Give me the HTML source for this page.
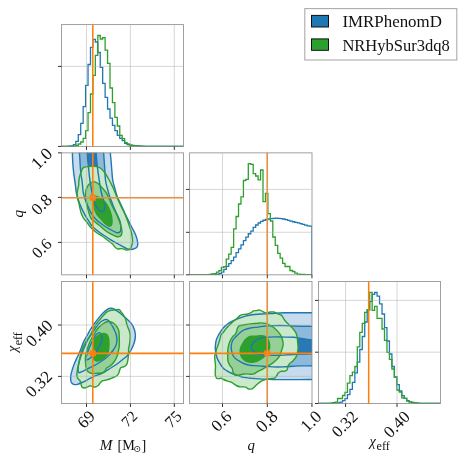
<!DOCTYPE html><html><head><meta charset="utf-8"><style>html,body{margin:0;padding:0;background:#fff;width:465px;height:465px;overflow:hidden}svg{display:block}text{font-family:"Liberation Serif","DejaVu Serif",serif;fill:#111}</style></head><body>
<svg width="465" height="465" viewBox="0 0 465 465">
<rect width="465" height="465" fill="#fff"/>
<defs>
<clipPath id="c00"><rect x="61.5" y="24.55" width="122.00" height="121.90"/></clipPath>
<clipPath id="h00"><rect x="61.5" y="24.55" width="122.00" height="122.20"/></clipPath>
<clipPath id="c10"><rect x="61.5" y="152.85" width="122.00" height="121.95"/></clipPath>
<clipPath id="c11"><rect x="189.55" y="152.85" width="122.45" height="121.95"/></clipPath>
<clipPath id="h11"><rect x="189.55" y="152.85" width="122.45" height="122.25"/></clipPath>
<clipPath id="c20"><rect x="61.5" y="281.5" width="122.00" height="122.00"/></clipPath>
<clipPath id="c21"><rect x="189.55" y="281.5" width="122.45" height="122.00"/></clipPath>
<clipPath id="c22"><rect x="318.5" y="281.5" width="122.00" height="122.00"/></clipPath>
<clipPath id="h22"><rect x="318.5" y="281.5" width="122.00" height="122.30"/></clipPath>
</defs>
<g clip-path="url(#c10)">
<path d="M72.00 140.00C72.08 143.52 72.30 149.85 72.40 153.10C72.50 156.35 72.48 157.18 72.60 159.50C72.72 161.82 72.88 164.48 73.10 167.00C73.32 169.52 73.58 172.08 73.90 174.60C74.22 177.12 74.72 180.12 75.00 182.10C75.28 184.08 75.38 184.77 75.60 186.50C75.82 188.23 75.85 190.25 76.30 192.50C76.75 194.75 77.47 197.48 78.30 200.00C79.13 202.52 80.18 205.08 81.30 207.60C82.42 210.12 83.88 213.07 85.00 215.10C86.12 217.13 86.75 217.90 88.00 219.80C89.25 221.70 90.38 224.25 92.50 226.50C94.62 228.75 97.78 231.17 100.70 233.30C103.62 235.43 106.95 237.43 110.00 239.30C113.05 241.17 116.42 243.05 119.00 244.50C121.58 245.95 123.67 247.17 125.50 248.00C127.33 248.83 128.50 249.38 130.00 249.50C131.50 249.62 133.28 249.20 134.50 248.70C135.72 248.20 136.78 247.62 137.30 246.50C137.82 245.38 137.87 243.92 137.60 242.00C137.33 240.08 136.80 237.72 135.70 235.00C134.60 232.28 132.68 229.07 131.00 225.70C129.32 222.33 127.40 218.58 125.60 214.80C123.80 211.02 121.58 206.02 120.20 203.00C118.82 199.98 118.25 199.37 117.30 196.70C116.35 194.03 115.27 189.78 114.50 187.00C113.73 184.22 113.15 182.83 112.70 180.00C112.25 177.17 112.08 173.33 111.80 170.00C111.52 166.67 111.23 162.78 111.00 160.00C110.77 157.22 110.53 156.63 110.40 153.30C110.27 149.97 110.25 143.55 110.20 140.00C110.15 136.45 110.13 134.67 110.10 132.00C110.07 129.33 113.18 126.67 110.00 124.00C106.82 121.33 97.33 116.00 91.00 116.00C84.67 116.00 75.18 121.33 72.00 124.00C68.82 126.67 71.90 129.33 71.90 132.00C71.90 134.67 71.92 136.48 72.00 140.00Z" fill="rgb(198,219,237)"/>
<path d="M79.50 140.00C79.50 143.52 79.43 149.85 79.50 153.10C79.57 156.35 79.77 157.18 79.90 159.50C80.03 161.82 80.12 164.48 80.30 167.00C80.48 169.52 80.68 172.08 81.00 174.60C81.32 177.12 81.83 179.12 82.20 182.10C82.57 185.08 82.67 189.52 83.20 192.50C83.73 195.48 84.58 197.62 85.40 200.00C86.22 202.38 87.15 204.67 88.10 206.80C89.05 208.93 89.90 210.82 91.10 212.80C92.30 214.78 93.27 216.62 95.30 218.70C97.33 220.78 100.63 223.42 103.30 225.30C105.97 227.18 109.02 228.77 111.30 230.00C113.58 231.23 115.50 232.45 117.00 232.70C118.50 232.95 119.65 232.45 120.30 231.50C120.95 230.55 120.92 228.58 120.90 227.00C120.88 225.42 120.72 223.83 120.20 222.00C119.68 220.17 118.70 218.08 117.80 216.00C116.90 213.92 115.80 211.83 114.80 209.50C113.80 207.17 112.68 204.25 111.80 202.00C110.92 199.75 110.22 198.17 109.50 196.00C108.78 193.83 108.17 191.67 107.50 189.00C106.83 186.33 106.00 184.00 105.50 180.00C105.00 176.00 104.80 169.45 104.50 165.00C104.20 160.55 103.85 157.47 103.70 153.30C103.55 149.13 103.63 143.55 103.60 140.00C103.57 136.45 103.52 134.67 103.50 132.00C103.48 129.33 105.58 126.67 103.50 124.00C101.42 121.33 95.00 116.00 91.00 116.00C87.00 116.00 81.42 121.33 79.50 124.00C77.58 126.67 79.50 129.33 79.50 132.00C79.50 134.67 79.50 136.48 79.50 140.00Z" fill="rgb(141,185,219)"/>
<path d="M86.80 140.00C86.83 143.55 86.75 149.08 87.00 153.30C87.25 157.52 87.85 161.07 88.30 165.30C88.75 169.53 89.17 174.58 89.70 178.70C90.23 182.82 90.87 186.62 91.50 190.00C92.13 193.38 92.78 196.42 93.50 199.00C94.22 201.58 94.97 203.75 95.80 205.50C96.63 207.25 97.50 208.48 98.50 209.50C99.50 210.52 100.85 211.47 101.80 211.60C102.75 211.73 103.72 211.35 104.20 210.30C104.68 209.25 104.82 207.02 104.70 205.30C104.58 203.58 103.95 201.72 103.50 200.00C103.05 198.28 102.48 196.83 102.00 195.00C101.52 193.17 101.10 191.72 100.60 189.00C100.10 186.28 99.57 182.65 99.00 178.70C98.43 174.75 97.67 169.53 97.20 165.30C96.73 161.07 96.40 157.52 96.20 153.30C96.00 149.08 96.03 143.55 96.00 140.00C95.97 136.45 96.00 134.67 96.00 132.00C96.00 129.33 96.83 126.67 96.00 124.00C95.17 121.33 92.53 116.00 91.00 116.00C89.47 116.00 87.50 121.33 86.80 124.00C86.10 126.67 86.80 129.33 86.80 132.00C86.80 134.67 86.77 136.45 86.80 140.00Z" fill="rgb(40,121,182)"/>
<path d="M93.00 166.30C94.55 166.30 95.67 166.23 97.00 166.60C98.33 166.97 99.67 167.43 101.00 168.50C102.33 169.57 103.78 171.33 105.00 173.00C106.22 174.67 107.30 176.75 108.30 178.50C109.30 180.25 110.10 181.75 111.00 183.50C111.90 185.25 112.75 186.83 113.70 189.00C114.65 191.17 115.73 194.17 116.70 196.50C117.67 198.83 118.50 200.83 119.50 203.00C120.50 205.17 121.70 207.42 122.70 209.50C123.70 211.58 124.50 213.07 125.50 215.50C126.50 217.93 127.68 221.12 128.70 224.10C129.72 227.08 130.95 230.55 131.60 233.40C132.25 236.25 132.67 238.88 132.60 241.20C132.53 243.52 131.80 245.88 131.20 247.30C130.60 248.72 129.80 249.25 129.00 249.70C128.20 250.15 127.57 250.18 126.40 250.00C125.23 249.82 123.52 248.78 122.00 248.60C120.48 248.42 118.55 249.25 117.30 248.90C116.05 248.55 115.30 247.32 114.50 246.50C113.70 245.68 113.70 245.08 112.50 244.00C111.30 242.92 109.05 241.33 107.30 240.00C105.55 238.67 103.77 237.22 102.00 236.00C100.23 234.78 98.48 234.03 96.70 232.70C94.92 231.37 92.97 229.78 91.30 228.00C89.63 226.22 88.00 223.65 86.70 222.00C85.40 220.35 84.40 219.50 83.50 218.10C82.60 216.70 81.92 215.35 81.30 213.60C80.68 211.85 80.23 209.48 79.80 207.60C79.37 205.72 79.08 203.82 78.70 202.30C78.32 200.78 77.77 199.88 77.50 198.50C77.23 197.12 77.08 195.42 77.10 194.00C77.12 192.58 77.35 191.33 77.60 190.00C77.85 188.67 78.40 187.32 78.60 186.00C78.80 184.68 78.65 183.63 78.80 182.10C78.95 180.57 79.13 178.43 79.50 176.80C79.87 175.17 80.37 173.80 81.00 172.30C81.63 170.80 82.18 168.75 83.30 167.80C84.42 166.85 86.08 166.85 87.70 166.60C89.32 166.35 91.45 166.30 93.00 166.30Z" fill="rgb(202,232,202)"/>
<path d="M93.80 181.70C95.03 181.70 96.38 182.37 97.70 183.30C99.02 184.23 100.37 185.85 101.70 187.30C103.03 188.75 104.48 190.13 105.70 192.00C106.92 193.87 108.00 196.33 109.00 198.50C110.00 200.67 110.78 203.00 111.70 205.00C112.62 207.00 113.57 208.67 114.50 210.50C115.43 212.33 116.27 213.53 117.30 216.00C118.33 218.47 119.92 222.80 120.70 225.30C121.48 227.80 121.95 229.30 122.00 231.00C122.05 232.70 121.67 234.53 121.00 235.50C120.33 236.47 118.95 236.72 118.00 236.80C117.05 236.88 117.08 236.80 115.30 236.00C113.52 235.20 109.97 233.78 107.30 232.00C104.63 230.22 101.43 227.05 99.30 225.30C97.17 223.55 95.82 222.55 94.50 221.50C93.18 220.45 92.22 220.07 91.40 219.00C90.58 217.93 90.15 216.63 89.60 215.10C89.05 213.57 88.55 211.43 88.10 209.80C87.65 208.17 87.22 206.93 86.90 205.30C86.58 203.67 86.45 201.75 86.20 200.00C85.95 198.25 85.40 196.55 85.40 194.80C85.40 193.05 85.75 191.05 86.20 189.50C86.65 187.95 87.42 186.53 88.10 185.50C88.78 184.47 89.35 183.93 90.30 183.30C91.25 182.67 92.57 181.70 93.80 181.70Z" fill="rgb(150,208,150)"/>
<path d="M95.70 196.50C96.68 196.13 98.20 197.13 99.50 197.80C100.80 198.47 102.33 199.47 103.50 200.50C104.67 201.53 105.58 202.67 106.50 204.00C107.42 205.33 108.25 206.83 109.00 208.50C109.75 210.17 110.50 212.08 111.00 214.00C111.50 215.92 111.87 218.33 112.00 220.00C112.13 221.67 112.08 223.00 111.80 224.00C111.52 225.00 111.02 225.78 110.30 226.00C109.58 226.22 108.55 225.88 107.50 225.30C106.45 224.72 105.17 223.63 104.00 222.50C102.83 221.37 101.67 219.83 100.50 218.50C99.33 217.17 97.92 215.83 97.00 214.50C96.08 213.17 95.57 212.08 95.00 210.50C94.43 208.92 93.83 206.75 93.60 205.00C93.37 203.25 93.25 201.42 93.60 200.00C93.95 198.58 94.72 196.87 95.70 196.50Z" fill="rgb(46,160,46)"/>
<path d="M72.00 140.00C72.08 143.52 72.30 149.85 72.40 153.10C72.50 156.35 72.48 157.18 72.60 159.50C72.72 161.82 72.88 164.48 73.10 167.00C73.32 169.52 73.58 172.08 73.90 174.60C74.22 177.12 74.72 180.12 75.00 182.10C75.28 184.08 75.38 184.77 75.60 186.50C75.82 188.23 75.85 190.25 76.30 192.50C76.75 194.75 77.47 197.48 78.30 200.00C79.13 202.52 80.18 205.08 81.30 207.60C82.42 210.12 83.88 213.07 85.00 215.10C86.12 217.13 86.75 217.90 88.00 219.80C89.25 221.70 90.38 224.25 92.50 226.50C94.62 228.75 97.78 231.17 100.70 233.30C103.62 235.43 106.95 237.43 110.00 239.30C113.05 241.17 116.42 243.05 119.00 244.50C121.58 245.95 123.67 247.17 125.50 248.00C127.33 248.83 128.50 249.38 130.00 249.50C131.50 249.62 133.28 249.20 134.50 248.70C135.72 248.20 136.78 247.62 137.30 246.50C137.82 245.38 137.87 243.92 137.60 242.00C137.33 240.08 136.80 237.72 135.70 235.00C134.60 232.28 132.68 229.07 131.00 225.70C129.32 222.33 127.40 218.58 125.60 214.80C123.80 211.02 121.58 206.02 120.20 203.00C118.82 199.98 118.25 199.37 117.30 196.70C116.35 194.03 115.27 189.78 114.50 187.00C113.73 184.22 113.15 182.83 112.70 180.00C112.25 177.17 112.08 173.33 111.80 170.00C111.52 166.67 111.23 162.78 111.00 160.00C110.77 157.22 110.53 156.63 110.40 153.30C110.27 149.97 110.25 143.55 110.20 140.00C110.15 136.45 110.13 134.67 110.10 132.00C110.07 129.33 113.18 126.67 110.00 124.00C106.82 121.33 97.33 116.00 91.00 116.00C84.67 116.00 75.18 121.33 72.00 124.00C68.82 126.67 71.90 129.33 71.90 132.00C71.90 134.67 71.92 136.48 72.00 140.00Z" fill="none" stroke="#1f77b4" stroke-width="1.4"/>
<path d="M79.50 140.00C79.50 143.52 79.43 149.85 79.50 153.10C79.57 156.35 79.77 157.18 79.90 159.50C80.03 161.82 80.12 164.48 80.30 167.00C80.48 169.52 80.68 172.08 81.00 174.60C81.32 177.12 81.83 179.12 82.20 182.10C82.57 185.08 82.67 189.52 83.20 192.50C83.73 195.48 84.58 197.62 85.40 200.00C86.22 202.38 87.15 204.67 88.10 206.80C89.05 208.93 89.90 210.82 91.10 212.80C92.30 214.78 93.27 216.62 95.30 218.70C97.33 220.78 100.63 223.42 103.30 225.30C105.97 227.18 109.02 228.77 111.30 230.00C113.58 231.23 115.50 232.45 117.00 232.70C118.50 232.95 119.65 232.45 120.30 231.50C120.95 230.55 120.92 228.58 120.90 227.00C120.88 225.42 120.72 223.83 120.20 222.00C119.68 220.17 118.70 218.08 117.80 216.00C116.90 213.92 115.80 211.83 114.80 209.50C113.80 207.17 112.68 204.25 111.80 202.00C110.92 199.75 110.22 198.17 109.50 196.00C108.78 193.83 108.17 191.67 107.50 189.00C106.83 186.33 106.00 184.00 105.50 180.00C105.00 176.00 104.80 169.45 104.50 165.00C104.20 160.55 103.85 157.47 103.70 153.30C103.55 149.13 103.63 143.55 103.60 140.00C103.57 136.45 103.52 134.67 103.50 132.00C103.48 129.33 105.58 126.67 103.50 124.00C101.42 121.33 95.00 116.00 91.00 116.00C87.00 116.00 81.42 121.33 79.50 124.00C77.58 126.67 79.50 129.33 79.50 132.00C79.50 134.67 79.50 136.48 79.50 140.00Z" fill="none" stroke="#1f77b4" stroke-width="1.4"/>
<path d="M86.80 140.00C86.83 143.55 86.75 149.08 87.00 153.30C87.25 157.52 87.85 161.07 88.30 165.30C88.75 169.53 89.17 174.58 89.70 178.70C90.23 182.82 90.87 186.62 91.50 190.00C92.13 193.38 92.78 196.42 93.50 199.00C94.22 201.58 94.97 203.75 95.80 205.50C96.63 207.25 97.50 208.48 98.50 209.50C99.50 210.52 100.85 211.47 101.80 211.60C102.75 211.73 103.72 211.35 104.20 210.30C104.68 209.25 104.82 207.02 104.70 205.30C104.58 203.58 103.95 201.72 103.50 200.00C103.05 198.28 102.48 196.83 102.00 195.00C101.52 193.17 101.10 191.72 100.60 189.00C100.10 186.28 99.57 182.65 99.00 178.70C98.43 174.75 97.67 169.53 97.20 165.30C96.73 161.07 96.40 157.52 96.20 153.30C96.00 149.08 96.03 143.55 96.00 140.00C95.97 136.45 96.00 134.67 96.00 132.00C96.00 129.33 96.83 126.67 96.00 124.00C95.17 121.33 92.53 116.00 91.00 116.00C89.47 116.00 87.50 121.33 86.80 124.00C86.10 126.67 86.80 129.33 86.80 132.00C86.80 134.67 86.77 136.45 86.80 140.00Z" fill="none" stroke="#1f77b4" stroke-width="1.4"/>
<path d="M93.00 166.30C94.55 166.30 95.67 166.23 97.00 166.60C98.33 166.97 99.67 167.43 101.00 168.50C102.33 169.57 103.78 171.33 105.00 173.00C106.22 174.67 107.30 176.75 108.30 178.50C109.30 180.25 110.10 181.75 111.00 183.50C111.90 185.25 112.75 186.83 113.70 189.00C114.65 191.17 115.73 194.17 116.70 196.50C117.67 198.83 118.50 200.83 119.50 203.00C120.50 205.17 121.70 207.42 122.70 209.50C123.70 211.58 124.50 213.07 125.50 215.50C126.50 217.93 127.68 221.12 128.70 224.10C129.72 227.08 130.95 230.55 131.60 233.40C132.25 236.25 132.67 238.88 132.60 241.20C132.53 243.52 131.80 245.88 131.20 247.30C130.60 248.72 129.80 249.25 129.00 249.70C128.20 250.15 127.57 250.18 126.40 250.00C125.23 249.82 123.52 248.78 122.00 248.60C120.48 248.42 118.55 249.25 117.30 248.90C116.05 248.55 115.30 247.32 114.50 246.50C113.70 245.68 113.70 245.08 112.50 244.00C111.30 242.92 109.05 241.33 107.30 240.00C105.55 238.67 103.77 237.22 102.00 236.00C100.23 234.78 98.48 234.03 96.70 232.70C94.92 231.37 92.97 229.78 91.30 228.00C89.63 226.22 88.00 223.65 86.70 222.00C85.40 220.35 84.40 219.50 83.50 218.10C82.60 216.70 81.92 215.35 81.30 213.60C80.68 211.85 80.23 209.48 79.80 207.60C79.37 205.72 79.08 203.82 78.70 202.30C78.32 200.78 77.77 199.88 77.50 198.50C77.23 197.12 77.08 195.42 77.10 194.00C77.12 192.58 77.35 191.33 77.60 190.00C77.85 188.67 78.40 187.32 78.60 186.00C78.80 184.68 78.65 183.63 78.80 182.10C78.95 180.57 79.13 178.43 79.50 176.80C79.87 175.17 80.37 173.80 81.00 172.30C81.63 170.80 82.18 168.75 83.30 167.80C84.42 166.85 86.08 166.85 87.70 166.60C89.32 166.35 91.45 166.30 93.00 166.30Z" fill="none" stroke="#2ca02c" stroke-width="1.4"/>
<path d="M93.80 181.70C95.03 181.70 96.38 182.37 97.70 183.30C99.02 184.23 100.37 185.85 101.70 187.30C103.03 188.75 104.48 190.13 105.70 192.00C106.92 193.87 108.00 196.33 109.00 198.50C110.00 200.67 110.78 203.00 111.70 205.00C112.62 207.00 113.57 208.67 114.50 210.50C115.43 212.33 116.27 213.53 117.30 216.00C118.33 218.47 119.92 222.80 120.70 225.30C121.48 227.80 121.95 229.30 122.00 231.00C122.05 232.70 121.67 234.53 121.00 235.50C120.33 236.47 118.95 236.72 118.00 236.80C117.05 236.88 117.08 236.80 115.30 236.00C113.52 235.20 109.97 233.78 107.30 232.00C104.63 230.22 101.43 227.05 99.30 225.30C97.17 223.55 95.82 222.55 94.50 221.50C93.18 220.45 92.22 220.07 91.40 219.00C90.58 217.93 90.15 216.63 89.60 215.10C89.05 213.57 88.55 211.43 88.10 209.80C87.65 208.17 87.22 206.93 86.90 205.30C86.58 203.67 86.45 201.75 86.20 200.00C85.95 198.25 85.40 196.55 85.40 194.80C85.40 193.05 85.75 191.05 86.20 189.50C86.65 187.95 87.42 186.53 88.10 185.50C88.78 184.47 89.35 183.93 90.30 183.30C91.25 182.67 92.57 181.70 93.80 181.70Z" fill="none" stroke="#2ca02c" stroke-width="1.4"/>
<path d="M95.70 196.50C96.68 196.13 98.20 197.13 99.50 197.80C100.80 198.47 102.33 199.47 103.50 200.50C104.67 201.53 105.58 202.67 106.50 204.00C107.42 205.33 108.25 206.83 109.00 208.50C109.75 210.17 110.50 212.08 111.00 214.00C111.50 215.92 111.87 218.33 112.00 220.00C112.13 221.67 112.08 223.00 111.80 224.00C111.52 225.00 111.02 225.78 110.30 226.00C109.58 226.22 108.55 225.88 107.50 225.30C106.45 224.72 105.17 223.63 104.00 222.50C102.83 221.37 101.67 219.83 100.50 218.50C99.33 217.17 97.92 215.83 97.00 214.50C96.08 213.17 95.57 212.08 95.00 210.50C94.43 208.92 93.83 206.75 93.60 205.00C93.37 203.25 93.25 201.42 93.60 200.00C93.95 198.58 94.72 196.87 95.70 196.50Z" fill="none" stroke="#2ca02c" stroke-width="1.4"/>
</g>
<g clip-path="url(#c20)">
<path d="M111.30 308.20C112.42 308.13 113.13 308.50 114.00 308.90C114.87 309.30 115.45 309.88 116.50 310.60C117.55 311.32 118.95 312.13 120.30 313.20C121.65 314.27 123.17 315.72 124.60 317.00C126.03 318.28 127.62 319.60 128.90 320.90C130.18 322.20 131.37 323.28 132.30 324.80C133.23 326.32 133.98 328.28 134.50 330.00C135.02 331.72 135.35 333.35 135.40 335.10C135.45 336.85 135.17 338.77 134.80 340.50C134.43 342.23 133.87 343.83 133.20 345.50C132.53 347.17 131.75 348.83 130.80 350.50C129.85 352.17 128.80 354.03 127.50 355.50C126.20 356.97 124.47 358.10 123.00 359.30C121.53 360.50 120.20 361.58 118.70 362.70C117.20 363.82 115.67 364.90 114.00 366.00C112.33 367.10 110.48 368.18 108.70 369.30C106.92 370.42 104.97 371.80 103.30 372.70C101.63 373.60 100.25 374.10 98.70 374.70C97.15 375.30 95.78 375.50 94.00 376.30C92.22 377.10 90.00 378.47 88.00 379.50C86.00 380.53 83.75 381.70 82.00 382.50C80.25 383.30 78.75 383.95 77.50 384.30C76.25 384.65 75.42 384.77 74.50 384.60C73.58 384.43 72.63 384.07 72.00 383.30C71.37 382.53 70.87 381.47 70.70 380.00C70.53 378.53 70.70 376.33 71.00 374.50C71.30 372.67 72.00 370.67 72.50 369.00C73.00 367.33 73.32 366.23 74.00 364.50C74.68 362.77 75.82 360.30 76.60 358.60C77.38 356.90 78.05 355.73 78.70 354.30C79.35 352.87 79.78 351.83 80.50 350.00C81.22 348.17 82.20 345.20 83.00 343.30C83.80 341.40 84.47 340.15 85.30 338.60C86.13 337.05 87.22 335.43 88.00 334.00C88.78 332.57 89.22 331.33 90.00 330.00C90.78 328.67 91.70 327.45 92.70 326.00C93.70 324.55 94.90 322.75 96.00 321.30C97.10 319.85 98.08 318.73 99.30 317.30C100.52 315.87 101.97 314.03 103.30 312.70C104.63 311.37 105.97 310.05 107.30 309.30C108.63 308.55 110.18 308.27 111.30 308.20Z" fill="rgb(198,219,237)"/>
<path d="M106.00 319.50C107.00 319.50 107.92 320.07 108.70 320.70C109.48 321.33 110.03 322.30 110.70 323.30C111.37 324.30 112.03 325.47 112.70 326.70C113.37 327.93 114.12 329.40 114.70 330.70C115.28 332.00 115.83 333.12 116.20 334.50C116.57 335.88 116.83 337.58 116.90 339.00C116.97 340.42 116.80 341.83 116.60 343.00C116.40 344.17 116.25 344.83 115.70 346.00C115.15 347.17 114.13 348.78 113.30 350.00C112.47 351.22 111.70 352.18 110.70 353.30C109.70 354.42 108.53 355.58 107.30 356.70C106.07 357.82 104.73 358.95 103.30 360.00C101.87 361.05 100.25 362.05 98.70 363.00C97.15 363.95 95.78 364.77 94.00 365.70C92.22 366.63 89.92 367.67 88.00 368.60C86.08 369.53 83.97 370.62 82.50 371.30C81.03 371.98 79.92 372.70 79.20 372.70C78.48 372.70 78.35 372.33 78.20 371.30C78.05 370.27 78.10 368.22 78.30 366.50C78.50 364.78 78.92 362.83 79.40 361.00C79.88 359.17 80.55 357.33 81.20 355.50C81.85 353.67 82.53 351.92 83.30 350.00C84.07 348.08 84.92 345.92 85.80 344.00C86.68 342.08 87.65 340.17 88.60 338.50C89.55 336.83 90.60 335.30 91.50 334.00C92.40 332.70 93.13 331.92 94.00 330.70C94.87 329.48 95.82 327.93 96.70 326.70C97.58 325.47 98.30 324.30 99.30 323.30C100.30 322.30 101.58 321.33 102.70 320.70C103.82 320.07 105.00 319.50 106.00 319.50Z" fill="rgb(141,185,219)"/>
<path d="M99.30 332.60C100.13 332.57 100.85 333.48 101.30 334.30C101.75 335.12 101.97 336.30 102.00 337.50C102.03 338.70 101.85 340.17 101.50 341.50C101.15 342.83 100.48 344.33 99.90 345.50C99.32 346.67 98.73 347.42 98.00 348.50C97.27 349.58 96.57 350.60 95.50 352.00C94.43 353.40 93.03 355.58 91.60 356.90C90.17 358.22 87.85 359.63 86.90 359.90C85.95 360.17 85.92 359.32 85.90 358.50C85.88 357.68 86.35 356.50 86.80 355.00C87.25 353.50 87.90 351.33 88.60 349.50C89.30 347.67 90.13 345.83 91.00 344.00C91.87 342.17 92.92 340.08 93.80 338.50C94.68 336.92 95.38 335.48 96.30 334.50C97.22 333.52 98.47 332.63 99.30 332.60Z" fill="rgb(40,121,182)"/>
<path d="M115.30 310.00C116.33 309.88 116.82 309.65 117.50 309.60C118.18 309.55 118.78 309.32 119.40 309.70C120.02 310.08 120.48 310.97 121.20 311.90C121.92 312.83 122.98 314.15 123.70 315.30C124.42 316.45 125.07 317.65 125.50 318.80C125.93 319.95 125.95 320.92 126.30 322.20C126.65 323.48 127.10 325.07 127.60 326.50C128.10 327.93 128.87 329.37 129.30 330.80C129.73 332.23 130.08 333.57 130.20 335.10C130.32 336.63 130.12 338.47 130.00 340.00C129.88 341.53 129.73 342.87 129.50 344.30C129.27 345.73 128.75 347.17 128.60 348.60C128.45 350.03 128.67 351.47 128.60 352.90C128.53 354.33 128.33 355.92 128.20 357.20C128.07 358.48 128.02 359.45 127.80 360.60C127.58 361.75 127.40 363.17 126.90 364.10C126.40 365.03 125.53 365.68 124.80 366.20C124.07 366.72 123.18 366.93 122.50 367.20C121.82 367.47 121.17 367.33 120.70 367.80C120.23 368.27 120.03 369.08 119.70 370.00C119.37 370.92 119.20 372.30 118.70 373.30C118.20 374.30 117.63 375.30 116.70 376.00C115.77 376.70 114.27 377.00 113.10 377.50C111.93 378.00 110.92 378.57 109.70 379.00C108.48 379.43 107.02 379.80 105.80 380.10C104.58 380.40 103.30 380.38 102.40 380.80C101.50 381.22 101.05 381.87 100.40 382.60C99.75 383.33 99.28 384.50 98.50 385.20C97.72 385.90 96.63 386.53 95.70 386.80C94.77 387.07 93.83 386.98 92.90 386.80C91.97 386.62 90.93 385.70 90.10 385.70C89.27 385.70 88.83 386.42 87.90 386.80C86.97 387.18 85.48 387.97 84.50 388.00C83.52 388.03 82.58 387.67 82.00 387.00C81.42 386.33 81.33 385.05 81.00 384.00C80.67 382.95 80.50 381.58 80.00 380.70C79.50 379.82 78.53 379.60 78.00 378.70C77.47 377.80 76.88 376.87 76.80 375.30C76.72 373.73 77.15 371.40 77.50 369.30C77.85 367.20 78.43 364.92 78.90 362.70C79.37 360.48 79.78 358.12 80.30 356.00C80.82 353.88 81.33 351.92 82.00 350.00C82.67 348.08 83.38 346.25 84.30 344.50C85.22 342.75 86.38 341.25 87.50 339.50C88.62 337.75 90.13 335.58 91.00 334.00C91.87 332.42 92.08 331.22 92.70 330.00C93.32 328.78 93.93 327.92 94.70 326.70C95.47 325.48 96.30 324.03 97.30 322.70C98.30 321.37 99.58 320.03 100.70 318.70C101.82 317.37 102.90 315.87 104.00 314.70C105.10 313.53 106.08 312.43 107.30 311.70C108.52 310.97 109.97 310.58 111.30 310.30C112.63 310.02 114.27 310.12 115.30 310.00Z" fill="rgb(202,232,202)"/>
<path d="M109.30 321.50C110.42 321.62 111.70 322.17 112.70 322.70C113.70 323.23 114.53 323.93 115.30 324.70C116.07 325.47 116.73 326.33 117.30 327.30C117.87 328.27 118.38 329.27 118.70 330.50C119.02 331.73 119.10 332.95 119.20 334.70C119.30 336.45 119.28 339.12 119.30 341.00C119.32 342.88 119.52 344.05 119.30 346.00C119.08 347.95 118.43 350.82 118.00 352.70C117.57 354.58 117.37 355.75 116.70 357.30C116.03 358.85 115.12 360.55 114.00 362.00C112.88 363.45 111.22 365.00 110.00 366.00C108.78 367.00 107.58 367.12 106.70 368.00C105.82 368.88 105.48 370.47 104.70 371.30C103.92 372.13 103.23 372.67 102.00 373.00C100.77 373.33 98.80 373.20 97.30 373.30C95.80 373.40 94.30 373.70 93.00 373.60C91.70 373.50 90.50 373.25 89.50 372.70C88.50 372.15 87.58 371.25 87.00 370.30C86.42 369.35 86.25 368.38 86.00 367.00C85.75 365.62 85.60 363.50 85.50 362.00C85.40 360.50 85.32 359.43 85.40 358.00C85.48 356.57 85.68 354.90 86.00 353.40C86.32 351.90 86.75 350.68 87.30 349.00C87.85 347.32 88.60 345.05 89.30 343.30C90.00 341.55 90.60 340.17 91.50 338.50C92.40 336.83 93.83 334.72 94.70 333.30C95.57 331.88 95.93 331.10 96.70 330.00C97.47 328.90 98.30 327.70 99.30 326.70C100.30 325.70 101.58 324.78 102.70 324.00C103.82 323.22 104.90 322.42 106.00 322.00C107.10 321.58 108.18 321.38 109.30 321.50Z" fill="rgb(150,208,150)"/>
<path d="M104.00 333.50C104.98 333.58 105.98 333.83 106.70 334.50C107.42 335.17 107.93 336.33 108.30 337.50C108.67 338.67 108.80 340.08 108.90 341.50C109.00 342.92 109.05 344.13 108.90 346.00C108.75 347.87 108.70 350.82 108.00 352.70C107.30 354.58 106.03 356.03 104.70 357.30C103.37 358.57 101.37 359.68 100.00 360.30C98.63 360.92 97.50 361.13 96.50 361.00C95.50 360.87 94.55 360.37 94.00 359.50C93.45 358.63 93.32 357.55 93.20 355.80C93.08 354.05 93.23 351.05 93.30 349.00C93.37 346.95 93.32 345.17 93.60 343.50C93.88 341.83 94.35 340.25 95.00 339.00C95.65 337.75 96.53 336.83 97.50 336.00C98.47 335.17 99.72 334.42 100.80 334.00C101.88 333.58 103.02 333.42 104.00 333.50Z" fill="rgb(46,160,46)"/>
<path d="M111.30 308.20C112.42 308.13 113.13 308.50 114.00 308.90C114.87 309.30 115.45 309.88 116.50 310.60C117.55 311.32 118.95 312.13 120.30 313.20C121.65 314.27 123.17 315.72 124.60 317.00C126.03 318.28 127.62 319.60 128.90 320.90C130.18 322.20 131.37 323.28 132.30 324.80C133.23 326.32 133.98 328.28 134.50 330.00C135.02 331.72 135.35 333.35 135.40 335.10C135.45 336.85 135.17 338.77 134.80 340.50C134.43 342.23 133.87 343.83 133.20 345.50C132.53 347.17 131.75 348.83 130.80 350.50C129.85 352.17 128.80 354.03 127.50 355.50C126.20 356.97 124.47 358.10 123.00 359.30C121.53 360.50 120.20 361.58 118.70 362.70C117.20 363.82 115.67 364.90 114.00 366.00C112.33 367.10 110.48 368.18 108.70 369.30C106.92 370.42 104.97 371.80 103.30 372.70C101.63 373.60 100.25 374.10 98.70 374.70C97.15 375.30 95.78 375.50 94.00 376.30C92.22 377.10 90.00 378.47 88.00 379.50C86.00 380.53 83.75 381.70 82.00 382.50C80.25 383.30 78.75 383.95 77.50 384.30C76.25 384.65 75.42 384.77 74.50 384.60C73.58 384.43 72.63 384.07 72.00 383.30C71.37 382.53 70.87 381.47 70.70 380.00C70.53 378.53 70.70 376.33 71.00 374.50C71.30 372.67 72.00 370.67 72.50 369.00C73.00 367.33 73.32 366.23 74.00 364.50C74.68 362.77 75.82 360.30 76.60 358.60C77.38 356.90 78.05 355.73 78.70 354.30C79.35 352.87 79.78 351.83 80.50 350.00C81.22 348.17 82.20 345.20 83.00 343.30C83.80 341.40 84.47 340.15 85.30 338.60C86.13 337.05 87.22 335.43 88.00 334.00C88.78 332.57 89.22 331.33 90.00 330.00C90.78 328.67 91.70 327.45 92.70 326.00C93.70 324.55 94.90 322.75 96.00 321.30C97.10 319.85 98.08 318.73 99.30 317.30C100.52 315.87 101.97 314.03 103.30 312.70C104.63 311.37 105.97 310.05 107.30 309.30C108.63 308.55 110.18 308.27 111.30 308.20Z" fill="none" stroke="#1f77b4" stroke-width="1.4"/>
<path d="M106.00 319.50C107.00 319.50 107.92 320.07 108.70 320.70C109.48 321.33 110.03 322.30 110.70 323.30C111.37 324.30 112.03 325.47 112.70 326.70C113.37 327.93 114.12 329.40 114.70 330.70C115.28 332.00 115.83 333.12 116.20 334.50C116.57 335.88 116.83 337.58 116.90 339.00C116.97 340.42 116.80 341.83 116.60 343.00C116.40 344.17 116.25 344.83 115.70 346.00C115.15 347.17 114.13 348.78 113.30 350.00C112.47 351.22 111.70 352.18 110.70 353.30C109.70 354.42 108.53 355.58 107.30 356.70C106.07 357.82 104.73 358.95 103.30 360.00C101.87 361.05 100.25 362.05 98.70 363.00C97.15 363.95 95.78 364.77 94.00 365.70C92.22 366.63 89.92 367.67 88.00 368.60C86.08 369.53 83.97 370.62 82.50 371.30C81.03 371.98 79.92 372.70 79.20 372.70C78.48 372.70 78.35 372.33 78.20 371.30C78.05 370.27 78.10 368.22 78.30 366.50C78.50 364.78 78.92 362.83 79.40 361.00C79.88 359.17 80.55 357.33 81.20 355.50C81.85 353.67 82.53 351.92 83.30 350.00C84.07 348.08 84.92 345.92 85.80 344.00C86.68 342.08 87.65 340.17 88.60 338.50C89.55 336.83 90.60 335.30 91.50 334.00C92.40 332.70 93.13 331.92 94.00 330.70C94.87 329.48 95.82 327.93 96.70 326.70C97.58 325.47 98.30 324.30 99.30 323.30C100.30 322.30 101.58 321.33 102.70 320.70C103.82 320.07 105.00 319.50 106.00 319.50Z" fill="none" stroke="#1f77b4" stroke-width="1.4"/>
<path d="M99.30 332.60C100.13 332.57 100.85 333.48 101.30 334.30C101.75 335.12 101.97 336.30 102.00 337.50C102.03 338.70 101.85 340.17 101.50 341.50C101.15 342.83 100.48 344.33 99.90 345.50C99.32 346.67 98.73 347.42 98.00 348.50C97.27 349.58 96.57 350.60 95.50 352.00C94.43 353.40 93.03 355.58 91.60 356.90C90.17 358.22 87.85 359.63 86.90 359.90C85.95 360.17 85.92 359.32 85.90 358.50C85.88 357.68 86.35 356.50 86.80 355.00C87.25 353.50 87.90 351.33 88.60 349.50C89.30 347.67 90.13 345.83 91.00 344.00C91.87 342.17 92.92 340.08 93.80 338.50C94.68 336.92 95.38 335.48 96.30 334.50C97.22 333.52 98.47 332.63 99.30 332.60Z" fill="none" stroke="#1f77b4" stroke-width="1.4"/>
<path d="M115.30 310.00C116.33 309.88 116.82 309.65 117.50 309.60C118.18 309.55 118.78 309.32 119.40 309.70C120.02 310.08 120.48 310.97 121.20 311.90C121.92 312.83 122.98 314.15 123.70 315.30C124.42 316.45 125.07 317.65 125.50 318.80C125.93 319.95 125.95 320.92 126.30 322.20C126.65 323.48 127.10 325.07 127.60 326.50C128.10 327.93 128.87 329.37 129.30 330.80C129.73 332.23 130.08 333.57 130.20 335.10C130.32 336.63 130.12 338.47 130.00 340.00C129.88 341.53 129.73 342.87 129.50 344.30C129.27 345.73 128.75 347.17 128.60 348.60C128.45 350.03 128.67 351.47 128.60 352.90C128.53 354.33 128.33 355.92 128.20 357.20C128.07 358.48 128.02 359.45 127.80 360.60C127.58 361.75 127.40 363.17 126.90 364.10C126.40 365.03 125.53 365.68 124.80 366.20C124.07 366.72 123.18 366.93 122.50 367.20C121.82 367.47 121.17 367.33 120.70 367.80C120.23 368.27 120.03 369.08 119.70 370.00C119.37 370.92 119.20 372.30 118.70 373.30C118.20 374.30 117.63 375.30 116.70 376.00C115.77 376.70 114.27 377.00 113.10 377.50C111.93 378.00 110.92 378.57 109.70 379.00C108.48 379.43 107.02 379.80 105.80 380.10C104.58 380.40 103.30 380.38 102.40 380.80C101.50 381.22 101.05 381.87 100.40 382.60C99.75 383.33 99.28 384.50 98.50 385.20C97.72 385.90 96.63 386.53 95.70 386.80C94.77 387.07 93.83 386.98 92.90 386.80C91.97 386.62 90.93 385.70 90.10 385.70C89.27 385.70 88.83 386.42 87.90 386.80C86.97 387.18 85.48 387.97 84.50 388.00C83.52 388.03 82.58 387.67 82.00 387.00C81.42 386.33 81.33 385.05 81.00 384.00C80.67 382.95 80.50 381.58 80.00 380.70C79.50 379.82 78.53 379.60 78.00 378.70C77.47 377.80 76.88 376.87 76.80 375.30C76.72 373.73 77.15 371.40 77.50 369.30C77.85 367.20 78.43 364.92 78.90 362.70C79.37 360.48 79.78 358.12 80.30 356.00C80.82 353.88 81.33 351.92 82.00 350.00C82.67 348.08 83.38 346.25 84.30 344.50C85.22 342.75 86.38 341.25 87.50 339.50C88.62 337.75 90.13 335.58 91.00 334.00C91.87 332.42 92.08 331.22 92.70 330.00C93.32 328.78 93.93 327.92 94.70 326.70C95.47 325.48 96.30 324.03 97.30 322.70C98.30 321.37 99.58 320.03 100.70 318.70C101.82 317.37 102.90 315.87 104.00 314.70C105.10 313.53 106.08 312.43 107.30 311.70C108.52 310.97 109.97 310.58 111.30 310.30C112.63 310.02 114.27 310.12 115.30 310.00Z" fill="none" stroke="#2ca02c" stroke-width="1.4"/>
<path d="M109.30 321.50C110.42 321.62 111.70 322.17 112.70 322.70C113.70 323.23 114.53 323.93 115.30 324.70C116.07 325.47 116.73 326.33 117.30 327.30C117.87 328.27 118.38 329.27 118.70 330.50C119.02 331.73 119.10 332.95 119.20 334.70C119.30 336.45 119.28 339.12 119.30 341.00C119.32 342.88 119.52 344.05 119.30 346.00C119.08 347.95 118.43 350.82 118.00 352.70C117.57 354.58 117.37 355.75 116.70 357.30C116.03 358.85 115.12 360.55 114.00 362.00C112.88 363.45 111.22 365.00 110.00 366.00C108.78 367.00 107.58 367.12 106.70 368.00C105.82 368.88 105.48 370.47 104.70 371.30C103.92 372.13 103.23 372.67 102.00 373.00C100.77 373.33 98.80 373.20 97.30 373.30C95.80 373.40 94.30 373.70 93.00 373.60C91.70 373.50 90.50 373.25 89.50 372.70C88.50 372.15 87.58 371.25 87.00 370.30C86.42 369.35 86.25 368.38 86.00 367.00C85.75 365.62 85.60 363.50 85.50 362.00C85.40 360.50 85.32 359.43 85.40 358.00C85.48 356.57 85.68 354.90 86.00 353.40C86.32 351.90 86.75 350.68 87.30 349.00C87.85 347.32 88.60 345.05 89.30 343.30C90.00 341.55 90.60 340.17 91.50 338.50C92.40 336.83 93.83 334.72 94.70 333.30C95.57 331.88 95.93 331.10 96.70 330.00C97.47 328.90 98.30 327.70 99.30 326.70C100.30 325.70 101.58 324.78 102.70 324.00C103.82 323.22 104.90 322.42 106.00 322.00C107.10 321.58 108.18 321.38 109.30 321.50Z" fill="none" stroke="#2ca02c" stroke-width="1.4"/>
<path d="M104.00 333.50C104.98 333.58 105.98 333.83 106.70 334.50C107.42 335.17 107.93 336.33 108.30 337.50C108.67 338.67 108.80 340.08 108.90 341.50C109.00 342.92 109.05 344.13 108.90 346.00C108.75 347.87 108.70 350.82 108.00 352.70C107.30 354.58 106.03 356.03 104.70 357.30C103.37 358.57 101.37 359.68 100.00 360.30C98.63 360.92 97.50 361.13 96.50 361.00C95.50 360.87 94.55 360.37 94.00 359.50C93.45 358.63 93.32 357.55 93.20 355.80C93.08 354.05 93.23 351.05 93.30 349.00C93.37 346.95 93.32 345.17 93.60 343.50C93.88 341.83 94.35 340.25 95.00 339.00C95.65 337.75 96.53 336.83 97.50 336.00C98.47 335.17 99.72 334.42 100.80 334.00C101.88 333.58 103.02 333.42 104.00 333.50Z" fill="none" stroke="#2ca02c" stroke-width="1.4"/>
</g>
<g clip-path="url(#c21)">
<path d="M316.00 312.70C312.00 312.70 303.70 312.70 300.00 312.70C296.30 312.70 296.40 312.68 293.80 312.70C291.20 312.72 287.55 312.72 284.40 312.80C281.25 312.88 278.05 313.02 274.90 313.20C271.75 313.38 268.32 313.73 265.50 313.90C262.68 314.07 260.18 314.07 258.00 314.20C255.82 314.33 254.33 314.42 252.40 314.70C250.47 314.98 248.27 315.42 246.40 315.90C244.53 316.38 243.07 316.95 241.20 317.60C239.33 318.25 236.92 319.08 235.20 319.80C233.48 320.52 232.33 321.05 230.90 321.90C229.47 322.75 227.88 323.90 226.60 324.90C225.32 325.90 224.05 327.02 223.20 327.90C222.35 328.78 222.25 329.07 221.50 330.20C220.75 331.33 219.57 333.07 218.70 334.70C217.83 336.33 216.87 338.00 216.30 340.00C215.73 342.00 215.40 344.58 215.30 346.70C215.20 348.82 215.47 351.03 215.70 352.70C215.93 354.37 216.27 355.38 216.70 356.70C217.13 358.02 217.32 358.80 218.30 360.60C219.28 362.40 221.17 365.78 222.60 367.50C224.03 369.22 225.32 369.90 226.90 370.90C228.48 371.90 230.23 372.72 232.10 373.50C233.97 374.28 236.10 374.95 238.10 375.60C240.10 376.25 242.10 376.97 244.10 377.40C246.10 377.83 248.45 378.02 250.10 378.20C251.75 378.38 251.97 378.35 254.00 378.50C256.03 378.65 259.20 378.92 262.30 379.10C265.40 379.28 269.15 379.52 272.60 379.60C276.05 379.68 279.55 379.60 283.00 379.60C286.45 379.60 290.47 379.60 293.30 379.60C296.13 379.60 296.22 379.63 300.00 379.60C303.78 379.57 312.00 379.43 316.00 379.40C320.00 379.37 321.33 379.40 324.00 379.40C326.67 379.40 329.33 384.97 332.00 379.40C334.67 373.83 340.00 357.12 340.00 346.00C340.00 334.88 334.67 318.25 332.00 312.70C329.33 307.15 326.67 312.70 324.00 312.70C321.33 312.70 320.00 312.70 316.00 312.70Z" fill="rgb(198,219,237)"/>
<path d="M316.00 326.40C312.00 326.37 303.70 326.27 300.00 326.20C296.30 326.13 296.40 326.10 293.80 326.00C291.20 325.90 287.55 325.67 284.40 325.60C281.25 325.53 278.05 325.53 274.90 325.60C271.75 325.67 268.32 325.75 265.50 326.00C262.68 326.25 260.47 326.77 258.00 327.10C255.53 327.43 252.92 327.57 250.70 328.00C248.48 328.43 246.35 329.03 244.70 329.70C243.05 330.37 242.13 330.95 240.80 332.00C239.47 333.05 238.00 334.67 236.70 336.00C235.40 337.33 233.90 338.45 233.00 340.00C232.10 341.55 231.52 343.42 231.30 345.30C231.08 347.18 231.37 349.52 231.70 351.30C232.03 353.08 232.53 354.67 233.30 356.00C234.07 357.33 235.22 358.40 236.30 359.30C237.38 360.20 238.35 360.62 239.80 361.40C241.25 362.18 243.28 363.35 245.00 364.00C246.72 364.65 248.60 365.03 250.10 365.30C251.60 365.57 251.97 365.45 254.00 365.60C256.03 365.75 259.20 365.98 262.30 366.20C265.40 366.42 269.15 366.78 272.60 366.90C276.05 367.02 279.55 367.02 283.00 366.90C286.45 366.78 290.47 366.37 293.30 366.20C296.13 366.03 296.22 365.97 300.00 365.90C303.78 365.83 312.00 365.82 316.00 365.80C320.00 365.78 321.33 365.80 324.00 365.80C326.67 365.80 329.33 369.10 332.00 365.80C334.67 362.50 340.00 352.57 340.00 346.00C340.00 339.43 334.67 329.67 332.00 326.40C329.33 323.13 326.67 326.40 324.00 326.40C321.33 326.40 320.00 326.43 316.00 326.40Z" fill="rgb(141,185,219)"/>
<path d="M316.00 340.50C312.83 340.23 308.00 339.43 305.00 339.00C302.00 338.57 299.87 338.18 298.00 337.90C296.13 337.62 296.07 337.43 293.80 337.30C291.53 337.17 287.55 337.17 284.40 337.10C281.25 337.03 278.05 336.87 274.90 336.90C271.75 336.93 267.87 337.10 265.50 337.30C263.13 337.50 262.28 337.58 260.70 338.10C259.12 338.62 257.28 339.58 256.00 340.40C254.72 341.22 253.80 341.95 253.00 343.00C252.20 344.05 251.28 345.48 251.20 346.70C251.12 347.92 251.78 349.30 252.50 350.30C253.22 351.30 254.50 352.03 255.50 352.70C256.50 353.37 256.50 353.90 258.50 354.30C260.50 354.70 264.28 354.92 267.50 355.10C270.72 355.28 274.37 355.45 277.80 355.40C281.23 355.35 284.40 354.98 288.10 354.80C291.80 354.62 295.35 354.47 300.00 354.30C304.65 354.13 312.00 353.88 316.00 353.80C320.00 353.72 321.33 353.80 324.00 353.80C326.67 353.80 329.33 354.93 332.00 353.80C334.67 352.67 340.00 349.20 340.00 347.00C340.00 344.80 334.67 341.67 332.00 340.60C329.33 339.53 326.67 340.62 324.00 340.60C321.33 340.58 319.17 340.77 316.00 340.50Z" fill="rgb(40,121,182)"/>
<path d="M256.00 310.60C257.05 310.47 258.53 309.87 259.80 310.10C261.07 310.33 262.50 311.52 263.60 312.00C264.70 312.48 265.30 313.00 266.40 313.00C267.50 313.00 268.93 312.17 270.20 312.00C271.47 311.83 272.73 311.68 274.00 312.00C275.27 312.32 276.55 313.33 277.80 313.90C279.05 314.47 280.57 314.68 281.50 315.40C282.43 316.12 282.77 317.27 283.40 318.20C284.03 319.13 284.35 319.90 285.30 321.00C286.25 322.10 287.83 323.53 289.10 324.80C290.37 326.07 291.80 327.33 292.90 328.60C294.00 329.87 294.98 330.98 295.70 332.40C296.42 333.82 296.88 335.53 297.20 337.10C297.52 338.67 297.47 340.32 297.60 341.80C297.73 343.28 297.95 344.60 298.00 346.00C298.05 347.40 298.17 348.47 297.90 350.20C297.63 351.93 297.17 354.68 296.40 356.40C295.63 358.12 294.33 359.38 293.30 360.50C292.27 361.62 291.07 362.23 290.20 363.10C289.33 363.97 288.62 364.58 288.10 365.70C287.58 366.82 287.78 368.87 287.10 369.80C286.42 370.73 285.03 371.05 284.00 371.30C282.97 371.55 281.85 371.03 280.90 371.30C279.95 371.57 278.98 372.20 278.30 372.90C277.62 373.60 277.40 374.63 276.80 375.50C276.20 376.37 275.73 377.58 274.70 378.10C273.67 378.62 272.15 378.35 270.60 378.60C269.05 378.85 266.95 379.17 265.40 379.60C263.85 380.03 262.67 380.43 261.30 381.20C259.93 381.97 258.40 383.18 257.20 384.20C256.00 385.22 254.97 386.53 254.10 387.30C253.23 388.07 252.95 388.52 252.00 388.80C251.05 389.08 249.43 389.27 248.40 389.00C247.37 388.73 246.67 387.57 245.80 387.20C244.93 386.83 244.20 386.87 243.20 386.80C242.20 386.73 240.93 387.02 239.80 386.80C238.67 386.58 237.40 386.00 236.40 385.50C235.40 385.00 234.67 384.37 233.80 383.80C232.93 383.23 232.35 382.60 231.20 382.10C230.05 381.60 228.18 381.23 226.90 380.80C225.62 380.37 224.43 379.93 223.50 379.50C222.57 379.07 222.02 378.35 221.30 378.20C220.58 378.05 219.98 378.60 219.20 378.60C218.42 378.60 217.25 378.77 216.60 378.20C215.95 377.63 215.52 376.40 215.30 375.20C215.08 374.00 215.27 372.43 215.30 371.00C215.33 369.57 215.52 368.02 215.50 366.60C215.48 365.18 215.32 363.82 215.20 362.50C215.08 361.18 214.88 359.78 214.80 358.70C214.72 357.62 214.55 357.00 214.70 356.00C214.85 355.00 215.37 353.92 215.70 352.70C216.03 351.48 216.20 350.27 216.70 348.70C217.20 347.13 218.15 344.97 218.70 343.30C219.25 341.63 219.62 340.13 220.00 338.70C220.38 337.27 220.50 335.70 221.00 334.70C221.50 333.70 222.37 333.45 223.00 332.70C223.63 331.95 224.20 330.98 224.80 330.20C225.40 329.42 225.73 328.95 226.60 328.00C227.47 327.05 228.85 325.65 230.00 324.50C231.15 323.35 232.35 322.10 233.50 321.10C234.65 320.10 235.90 319.37 236.90 318.50C237.90 317.63 238.63 316.55 239.50 315.90C240.37 315.25 240.95 314.88 242.10 314.60C243.25 314.32 244.97 314.48 246.40 314.20C247.83 313.92 249.52 313.45 250.70 312.90C251.88 312.35 252.62 311.28 253.50 310.90C254.38 310.52 254.95 310.73 256.00 310.60Z" fill="rgb(202,232,202)"/>
<path d="M256.00 323.40C257.38 323.28 259.12 322.90 260.70 322.90C262.28 322.90 263.92 323.00 265.50 323.40C267.08 323.80 268.78 324.58 270.20 325.30C271.62 326.02 272.73 326.68 274.00 327.70C275.27 328.72 276.70 330.15 277.80 331.40C278.90 332.65 279.82 333.77 280.60 335.20C281.38 336.63 282.07 338.45 282.50 340.00C282.93 341.55 283.30 342.97 283.20 344.50C283.10 346.03 282.45 347.38 281.90 349.20C281.35 351.02 280.75 353.68 279.90 355.40C279.05 357.12 278.02 358.22 276.80 359.50C275.58 360.78 274.15 361.98 272.60 363.10C271.05 364.22 269.22 365.17 267.50 366.20C265.78 367.23 264.02 368.35 262.30 369.30C260.58 370.25 258.58 371.13 257.20 371.90C255.82 372.67 255.03 373.50 254.00 373.90C252.97 374.30 252.22 374.30 251.00 374.30C249.78 374.30 248.13 373.90 246.70 373.90C245.27 373.90 243.83 374.08 242.40 374.30C240.97 374.52 239.40 375.12 238.10 375.20C236.80 375.28 235.47 375.37 234.60 374.80C233.73 374.23 233.32 372.88 232.90 371.80C232.48 370.72 232.67 369.45 232.10 368.30C231.53 367.15 230.18 366.12 229.50 364.90C228.82 363.68 228.30 362.37 228.00 361.00C227.70 359.63 227.75 358.20 227.70 356.70C227.65 355.20 227.60 353.67 227.70 352.00C227.80 350.33 227.92 348.48 228.30 346.70C228.68 344.92 229.27 342.97 230.00 341.30C230.73 339.63 231.82 337.87 232.70 336.70C233.58 335.53 234.65 335.17 235.30 334.30C235.95 333.43 236.27 332.47 236.60 331.50C236.93 330.53 236.97 329.38 237.30 328.50C237.63 327.62 237.95 326.72 238.60 326.20C239.25 325.68 239.90 325.68 241.20 325.40C242.50 325.12 244.53 324.80 246.40 324.50C248.27 324.20 250.80 323.78 252.40 323.60C254.00 323.42 254.62 323.52 256.00 323.40Z" fill="rgb(150,208,150)"/>
<path d="M256.00 336.20C257.37 336.12 259.12 335.63 260.70 335.70C262.28 335.77 264.23 335.88 265.50 336.60C266.77 337.32 267.62 338.68 268.30 340.00C268.98 341.32 269.40 343.15 269.60 344.50C269.80 345.85 269.85 346.77 269.50 348.10C269.15 349.43 268.35 351.12 267.50 352.50C266.65 353.88 265.60 355.23 264.40 356.40C263.20 357.57 261.68 358.65 260.30 359.50C258.92 360.35 257.48 361.02 256.10 361.50C254.72 361.98 253.63 362.43 252.00 362.40C250.37 362.37 248.02 362.15 246.30 361.30C244.58 360.45 242.72 358.77 241.70 357.30C240.68 355.83 240.38 354.05 240.20 352.50C240.02 350.95 240.25 349.33 240.60 348.00C240.95 346.67 241.57 345.83 242.30 344.50C243.03 343.17 243.88 341.27 245.00 340.00C246.12 338.73 247.75 337.53 249.00 336.90C250.25 336.27 251.33 336.32 252.50 336.20C253.67 336.08 254.63 336.28 256.00 336.20Z" fill="rgb(46,160,46)"/>
<path d="M316.00 312.70C312.00 312.70 303.70 312.70 300.00 312.70C296.30 312.70 296.40 312.68 293.80 312.70C291.20 312.72 287.55 312.72 284.40 312.80C281.25 312.88 278.05 313.02 274.90 313.20C271.75 313.38 268.32 313.73 265.50 313.90C262.68 314.07 260.18 314.07 258.00 314.20C255.82 314.33 254.33 314.42 252.40 314.70C250.47 314.98 248.27 315.42 246.40 315.90C244.53 316.38 243.07 316.95 241.20 317.60C239.33 318.25 236.92 319.08 235.20 319.80C233.48 320.52 232.33 321.05 230.90 321.90C229.47 322.75 227.88 323.90 226.60 324.90C225.32 325.90 224.05 327.02 223.20 327.90C222.35 328.78 222.25 329.07 221.50 330.20C220.75 331.33 219.57 333.07 218.70 334.70C217.83 336.33 216.87 338.00 216.30 340.00C215.73 342.00 215.40 344.58 215.30 346.70C215.20 348.82 215.47 351.03 215.70 352.70C215.93 354.37 216.27 355.38 216.70 356.70C217.13 358.02 217.32 358.80 218.30 360.60C219.28 362.40 221.17 365.78 222.60 367.50C224.03 369.22 225.32 369.90 226.90 370.90C228.48 371.90 230.23 372.72 232.10 373.50C233.97 374.28 236.10 374.95 238.10 375.60C240.10 376.25 242.10 376.97 244.10 377.40C246.10 377.83 248.45 378.02 250.10 378.20C251.75 378.38 251.97 378.35 254.00 378.50C256.03 378.65 259.20 378.92 262.30 379.10C265.40 379.28 269.15 379.52 272.60 379.60C276.05 379.68 279.55 379.60 283.00 379.60C286.45 379.60 290.47 379.60 293.30 379.60C296.13 379.60 296.22 379.63 300.00 379.60C303.78 379.57 312.00 379.43 316.00 379.40C320.00 379.37 321.33 379.40 324.00 379.40C326.67 379.40 329.33 384.97 332.00 379.40C334.67 373.83 340.00 357.12 340.00 346.00C340.00 334.88 334.67 318.25 332.00 312.70C329.33 307.15 326.67 312.70 324.00 312.70C321.33 312.70 320.00 312.70 316.00 312.70Z" fill="none" stroke="#1f77b4" stroke-width="1.4"/>
<path d="M316.00 326.40C312.00 326.37 303.70 326.27 300.00 326.20C296.30 326.13 296.40 326.10 293.80 326.00C291.20 325.90 287.55 325.67 284.40 325.60C281.25 325.53 278.05 325.53 274.90 325.60C271.75 325.67 268.32 325.75 265.50 326.00C262.68 326.25 260.47 326.77 258.00 327.10C255.53 327.43 252.92 327.57 250.70 328.00C248.48 328.43 246.35 329.03 244.70 329.70C243.05 330.37 242.13 330.95 240.80 332.00C239.47 333.05 238.00 334.67 236.70 336.00C235.40 337.33 233.90 338.45 233.00 340.00C232.10 341.55 231.52 343.42 231.30 345.30C231.08 347.18 231.37 349.52 231.70 351.30C232.03 353.08 232.53 354.67 233.30 356.00C234.07 357.33 235.22 358.40 236.30 359.30C237.38 360.20 238.35 360.62 239.80 361.40C241.25 362.18 243.28 363.35 245.00 364.00C246.72 364.65 248.60 365.03 250.10 365.30C251.60 365.57 251.97 365.45 254.00 365.60C256.03 365.75 259.20 365.98 262.30 366.20C265.40 366.42 269.15 366.78 272.60 366.90C276.05 367.02 279.55 367.02 283.00 366.90C286.45 366.78 290.47 366.37 293.30 366.20C296.13 366.03 296.22 365.97 300.00 365.90C303.78 365.83 312.00 365.82 316.00 365.80C320.00 365.78 321.33 365.80 324.00 365.80C326.67 365.80 329.33 369.10 332.00 365.80C334.67 362.50 340.00 352.57 340.00 346.00C340.00 339.43 334.67 329.67 332.00 326.40C329.33 323.13 326.67 326.40 324.00 326.40C321.33 326.40 320.00 326.43 316.00 326.40Z" fill="none" stroke="#1f77b4" stroke-width="1.4"/>
<path d="M316.00 340.50C312.83 340.23 308.00 339.43 305.00 339.00C302.00 338.57 299.87 338.18 298.00 337.90C296.13 337.62 296.07 337.43 293.80 337.30C291.53 337.17 287.55 337.17 284.40 337.10C281.25 337.03 278.05 336.87 274.90 336.90C271.75 336.93 267.87 337.10 265.50 337.30C263.13 337.50 262.28 337.58 260.70 338.10C259.12 338.62 257.28 339.58 256.00 340.40C254.72 341.22 253.80 341.95 253.00 343.00C252.20 344.05 251.28 345.48 251.20 346.70C251.12 347.92 251.78 349.30 252.50 350.30C253.22 351.30 254.50 352.03 255.50 352.70C256.50 353.37 256.50 353.90 258.50 354.30C260.50 354.70 264.28 354.92 267.50 355.10C270.72 355.28 274.37 355.45 277.80 355.40C281.23 355.35 284.40 354.98 288.10 354.80C291.80 354.62 295.35 354.47 300.00 354.30C304.65 354.13 312.00 353.88 316.00 353.80C320.00 353.72 321.33 353.80 324.00 353.80C326.67 353.80 329.33 354.93 332.00 353.80C334.67 352.67 340.00 349.20 340.00 347.00C340.00 344.80 334.67 341.67 332.00 340.60C329.33 339.53 326.67 340.62 324.00 340.60C321.33 340.58 319.17 340.77 316.00 340.50Z" fill="none" stroke="#1f77b4" stroke-width="1.4"/>
<path d="M256.00 310.60C257.05 310.47 258.53 309.87 259.80 310.10C261.07 310.33 262.50 311.52 263.60 312.00C264.70 312.48 265.30 313.00 266.40 313.00C267.50 313.00 268.93 312.17 270.20 312.00C271.47 311.83 272.73 311.68 274.00 312.00C275.27 312.32 276.55 313.33 277.80 313.90C279.05 314.47 280.57 314.68 281.50 315.40C282.43 316.12 282.77 317.27 283.40 318.20C284.03 319.13 284.35 319.90 285.30 321.00C286.25 322.10 287.83 323.53 289.10 324.80C290.37 326.07 291.80 327.33 292.90 328.60C294.00 329.87 294.98 330.98 295.70 332.40C296.42 333.82 296.88 335.53 297.20 337.10C297.52 338.67 297.47 340.32 297.60 341.80C297.73 343.28 297.95 344.60 298.00 346.00C298.05 347.40 298.17 348.47 297.90 350.20C297.63 351.93 297.17 354.68 296.40 356.40C295.63 358.12 294.33 359.38 293.30 360.50C292.27 361.62 291.07 362.23 290.20 363.10C289.33 363.97 288.62 364.58 288.10 365.70C287.58 366.82 287.78 368.87 287.10 369.80C286.42 370.73 285.03 371.05 284.00 371.30C282.97 371.55 281.85 371.03 280.90 371.30C279.95 371.57 278.98 372.20 278.30 372.90C277.62 373.60 277.40 374.63 276.80 375.50C276.20 376.37 275.73 377.58 274.70 378.10C273.67 378.62 272.15 378.35 270.60 378.60C269.05 378.85 266.95 379.17 265.40 379.60C263.85 380.03 262.67 380.43 261.30 381.20C259.93 381.97 258.40 383.18 257.20 384.20C256.00 385.22 254.97 386.53 254.10 387.30C253.23 388.07 252.95 388.52 252.00 388.80C251.05 389.08 249.43 389.27 248.40 389.00C247.37 388.73 246.67 387.57 245.80 387.20C244.93 386.83 244.20 386.87 243.20 386.80C242.20 386.73 240.93 387.02 239.80 386.80C238.67 386.58 237.40 386.00 236.40 385.50C235.40 385.00 234.67 384.37 233.80 383.80C232.93 383.23 232.35 382.60 231.20 382.10C230.05 381.60 228.18 381.23 226.90 380.80C225.62 380.37 224.43 379.93 223.50 379.50C222.57 379.07 222.02 378.35 221.30 378.20C220.58 378.05 219.98 378.60 219.20 378.60C218.42 378.60 217.25 378.77 216.60 378.20C215.95 377.63 215.52 376.40 215.30 375.20C215.08 374.00 215.27 372.43 215.30 371.00C215.33 369.57 215.52 368.02 215.50 366.60C215.48 365.18 215.32 363.82 215.20 362.50C215.08 361.18 214.88 359.78 214.80 358.70C214.72 357.62 214.55 357.00 214.70 356.00C214.85 355.00 215.37 353.92 215.70 352.70C216.03 351.48 216.20 350.27 216.70 348.70C217.20 347.13 218.15 344.97 218.70 343.30C219.25 341.63 219.62 340.13 220.00 338.70C220.38 337.27 220.50 335.70 221.00 334.70C221.50 333.70 222.37 333.45 223.00 332.70C223.63 331.95 224.20 330.98 224.80 330.20C225.40 329.42 225.73 328.95 226.60 328.00C227.47 327.05 228.85 325.65 230.00 324.50C231.15 323.35 232.35 322.10 233.50 321.10C234.65 320.10 235.90 319.37 236.90 318.50C237.90 317.63 238.63 316.55 239.50 315.90C240.37 315.25 240.95 314.88 242.10 314.60C243.25 314.32 244.97 314.48 246.40 314.20C247.83 313.92 249.52 313.45 250.70 312.90C251.88 312.35 252.62 311.28 253.50 310.90C254.38 310.52 254.95 310.73 256.00 310.60Z" fill="none" stroke="#2ca02c" stroke-width="1.4"/>
<path d="M256.00 323.40C257.38 323.28 259.12 322.90 260.70 322.90C262.28 322.90 263.92 323.00 265.50 323.40C267.08 323.80 268.78 324.58 270.20 325.30C271.62 326.02 272.73 326.68 274.00 327.70C275.27 328.72 276.70 330.15 277.80 331.40C278.90 332.65 279.82 333.77 280.60 335.20C281.38 336.63 282.07 338.45 282.50 340.00C282.93 341.55 283.30 342.97 283.20 344.50C283.10 346.03 282.45 347.38 281.90 349.20C281.35 351.02 280.75 353.68 279.90 355.40C279.05 357.12 278.02 358.22 276.80 359.50C275.58 360.78 274.15 361.98 272.60 363.10C271.05 364.22 269.22 365.17 267.50 366.20C265.78 367.23 264.02 368.35 262.30 369.30C260.58 370.25 258.58 371.13 257.20 371.90C255.82 372.67 255.03 373.50 254.00 373.90C252.97 374.30 252.22 374.30 251.00 374.30C249.78 374.30 248.13 373.90 246.70 373.90C245.27 373.90 243.83 374.08 242.40 374.30C240.97 374.52 239.40 375.12 238.10 375.20C236.80 375.28 235.47 375.37 234.60 374.80C233.73 374.23 233.32 372.88 232.90 371.80C232.48 370.72 232.67 369.45 232.10 368.30C231.53 367.15 230.18 366.12 229.50 364.90C228.82 363.68 228.30 362.37 228.00 361.00C227.70 359.63 227.75 358.20 227.70 356.70C227.65 355.20 227.60 353.67 227.70 352.00C227.80 350.33 227.92 348.48 228.30 346.70C228.68 344.92 229.27 342.97 230.00 341.30C230.73 339.63 231.82 337.87 232.70 336.70C233.58 335.53 234.65 335.17 235.30 334.30C235.95 333.43 236.27 332.47 236.60 331.50C236.93 330.53 236.97 329.38 237.30 328.50C237.63 327.62 237.95 326.72 238.60 326.20C239.25 325.68 239.90 325.68 241.20 325.40C242.50 325.12 244.53 324.80 246.40 324.50C248.27 324.20 250.80 323.78 252.40 323.60C254.00 323.42 254.62 323.52 256.00 323.40Z" fill="none" stroke="#2ca02c" stroke-width="1.4"/>
<path d="M256.00 336.20C257.37 336.12 259.12 335.63 260.70 335.70C262.28 335.77 264.23 335.88 265.50 336.60C266.77 337.32 267.62 338.68 268.30 340.00C268.98 341.32 269.40 343.15 269.60 344.50C269.80 345.85 269.85 346.77 269.50 348.10C269.15 349.43 268.35 351.12 267.50 352.50C266.65 353.88 265.60 355.23 264.40 356.40C263.20 357.57 261.68 358.65 260.30 359.50C258.92 360.35 257.48 361.02 256.10 361.50C254.72 361.98 253.63 362.43 252.00 362.40C250.37 362.37 248.02 362.15 246.30 361.30C244.58 360.45 242.72 358.77 241.70 357.30C240.68 355.83 240.38 354.05 240.20 352.50C240.02 350.95 240.25 349.33 240.60 348.00C240.95 346.67 241.57 345.83 242.30 344.50C243.03 343.17 243.88 341.27 245.00 340.00C246.12 338.73 247.75 337.53 249.00 336.90C250.25 336.27 251.33 336.32 252.50 336.20C253.67 336.08 254.63 336.28 256.00 336.20Z" fill="none" stroke="#2ca02c" stroke-width="1.4"/>
</g>
<g clip-path="url(#h00)" fill="none" stroke-width="1.30">
<path d="M61.50 146.45H68.52V146.20H70.96V146.00H73.40V144.70H75.84V141.30H78.28V134.70H80.72V123.30H83.16V106.70H85.60V85.30H88.04V64.50H90.48V47.40H92.92V39.40H95.36V42.00H97.80V52.50H100.24V67.30H102.68V83.30H105.12V97.30H107.56V109.00H110.00V118.20H112.44V125.30H114.88V130.70H117.32V135.30H119.76V138.30H122.20V140.70H124.64V143.30H127.08V144.70H129.52V145.30H131.96V145.60H134.40V145.80H136.84V146.00H139.28V146.10H141.72V146.45H183.50" stroke="#1f77b4"/>
<path d="M61.50 146.45H73.40V146.10H75.84V145.50H78.28V144.00H80.72V142.00H83.16V138.40H85.60V130.70H88.04V112.70H90.48V94.00H92.92V75.30H95.36V55.40H97.80V35.50H100.24V39.00H102.68V37.60H105.12V50.20H107.56V63.30H110.00V88.00H112.44V102.70H114.88V117.30H117.32V126.00H119.76V135.30H122.20V138.70H124.64V142.70H127.08V144.00H129.52V145.00H131.96V145.50H134.40V145.80H136.84V146.00H139.28V146.10H141.72V146.20H144.16V146.45H183.50" stroke="#2ca02c"/>
</g>
<g clip-path="url(#h11)" fill="none" stroke-width="1.30">
<path d="M189.55 274.80H214.04V274.68H216.48V274.38H218.93V273.68H221.38V272.18H223.83V269.40H226.28V266.46H228.73V263.53H231.17V260.54H233.62V257.05H236.07V252.57H238.52V248.78H240.97V244.80H243.42V240.66H245.87V237.13H248.31V233.77H250.76V231.11H253.21V227.46H255.66V225.01H258.11V222.98H260.56V221.32H263.00V220.26H265.45V219.51H267.90V219.00H270.35V218.61H272.80V218.31H275.25V218.20H277.70V218.30H280.14V218.61H282.59V219.00H285.04V219.64H287.49V220.33H289.94V221.20H292.39V221.74H294.84V222.28H297.28V222.89H299.73V223.56H302.18V224.35H304.63V225.11H307.08V225.82H309.53V226.19H311.98V274.80H312.00" stroke="#1f77b4"/>
<path d="M189.55 274.80H209.14V274.30H211.59V274.00H214.04V273.60H216.48V272.10H218.93V270.70H221.38V267.30H223.83V266.60H226.28V259.20H228.73V254.20H231.17V247.40H233.62V228.80H236.07V216.50H238.52V204.00H240.97V196.80H243.42V180.50H245.87V179.40H248.31V163.70H250.76V164.40H253.21V173.60H255.66V176.00H258.11V179.80H260.56V170.00H263.00V201.60H265.45V193.40H267.90V213.70H270.35V221.00H272.80V237.00H275.25V245.40H277.70V253.40H280.14V258.20H282.59V263.30H285.04V266.50H287.49V266.50H289.94V270.50H292.39V271.50H294.84V273.20H297.28V274.20H299.73V274.30H302.18V274.40H304.63V274.60H307.08V274.60H309.53V274.60H311.98V274.80H312.00" stroke="#2ca02c"/>
</g>
<g clip-path="url(#h22)" fill="none" stroke-width="1.30">
<path d="M318.50 403.50H335.09V403.20H337.56V402.90H340.03V402.10H342.50V400.70H344.97V398.70H347.44V394.70H349.91V389.30H352.38V382.30H354.85V372.80H357.32V362.10H359.79V349.50H362.26V336.50H364.73V322.00H367.20V310.00H369.67V301.40H372.14V294.30H374.61V292.50H377.08V296.20H379.55V303.90H382.02V314.00H384.49V327.60H386.96V341.00H389.43V354.00H391.90V366.50H394.37V377.00H396.84V384.70H399.31V391.00H401.78V395.70H404.25V398.30H406.72V400.70H409.19V401.90H411.66V402.50H414.13V402.90H416.60V403.20H419.07V403.50H440.50" stroke="#1f77b4"/>
<path d="M318.50 403.50H330.15V403.20H332.62V402.60H335.09V402.10H337.56V398.50H340.03V398.50H342.50V395.50H344.97V392.40H347.44V383.10H349.91V375.60H352.38V372.20H354.85V366.50H357.32V346.90H359.79V332.40H362.26V323.30H364.73V312.40H367.20V309.70H369.67V292.40H372.14V310.40H374.61V306.40H377.08V318.40H379.55V318.40H382.02V329.00H384.49V340.30H386.96V352.30H389.43V359.40H391.90V369.00H394.37V377.00H396.84V390.00H399.31V392.00H401.78V397.80H404.25V398.30H406.72V401.20H409.19V402.20H411.66V402.70H414.13V403.00H416.60V403.20H419.07V403.50H440.50" stroke="#2ca02c"/>
</g>
<rect x="61.5" y="24.55" width="122.00" height="121.90" fill="none" stroke="#888888" stroke-opacity="0.8" stroke-width="1"/>
<rect x="61.5" y="152.85" width="122.00" height="121.95" fill="none" stroke="#888888" stroke-opacity="0.8" stroke-width="1"/>
<rect x="189.55" y="152.85" width="122.45" height="121.95" fill="none" stroke="#888888" stroke-opacity="0.8" stroke-width="1"/>
<rect x="61.5" y="281.5" width="122.00" height="122.00" fill="none" stroke="#888888" stroke-opacity="0.8" stroke-width="1"/>
<rect x="189.55" y="281.5" width="122.45" height="122.00" fill="none" stroke="#888888" stroke-opacity="0.8" stroke-width="1"/>
<rect x="318.5" y="281.5" width="122.00" height="122.00" fill="none" stroke="#888888" stroke-opacity="0.8" stroke-width="1"/>
<path d="M92.8 24.55V146.45M92.8 152.85V274.8M92.8 281.5V403.5M267.25 152.85V274.8M267.25 281.5V403.5M368.7 281.5V403.5M61.5 197.7H183.5M61.5 353.35H183.5M189.55 353.35H312.0" stroke="#ff7f0e" stroke-width="1.55" fill="none"/>
<rect x="89.80" y="194.70" width="6" height="6" fill="#ff7f0e"/>
<rect x="89.80" y="350.35" width="6" height="6" fill="#ff7f0e"/>
<rect x="264.25" y="350.35" width="6" height="6" fill="#ff7f0e"/>
<path d="M86.50 25.05V145.95M130.40 25.05V145.95M174.30 25.05V145.95M62.00 66.40H183.00" stroke="#b0b0b0" stroke-opacity="0.5" stroke-width="1" fill="none"/>
<path d="M86.50 153.35V274.30M130.40 153.35V274.30M174.30 153.35V274.30M62.00 242.40H183.00M62.00 197.40H183.00" stroke="#b0b0b0" stroke-opacity="0.5" stroke-width="1" fill="none"/>
<path d="M222.50 153.35V274.30M267.45 153.35V274.30M190.05 189.40H311.50M190.05 232.30H311.50" stroke="#b0b0b0" stroke-opacity="0.5" stroke-width="1" fill="none"/>
<path d="M86.50 282.00V403.00M130.40 282.00V403.00M174.30 282.00V403.00M62.00 376.40H183.00M62.00 325.00H183.00" stroke="#b0b0b0" stroke-opacity="0.5" stroke-width="1" fill="none"/>
<path d="M222.50 282.00V403.00M267.45 282.00V403.00M190.05 376.40H311.50M190.05 325.00H311.50" stroke="#b0b0b0" stroke-opacity="0.5" stroke-width="1" fill="none"/>
<path d="M345.60 282.00V403.00M397.00 282.00V403.00M319.00 300.40H440.00M319.00 352.20H440.00" stroke="#b0b0b0" stroke-opacity="0.5" stroke-width="1" fill="none"/>
<path d="M86.50 146.45v3.5M130.40 146.45v3.5M174.30 146.45v3.5M61.5 66.40h-3.5M61.5 146.45h-3.5" stroke="#333" stroke-width="1" fill="none"/>
<path d="M86.50 274.8v3.5M130.40 274.8v3.5M174.30 274.8v3.5M61.5 242.40h-3.5M61.5 197.40h-3.5M61.5 152.85h-3.5" stroke="#333" stroke-width="1" fill="none"/>
<path d="M222.50 274.8v3.5M267.30 274.8v3.5M311.95 274.8v3.5M189.55 189.40h-3.5M189.55 232.30h-3.5M189.55 274.80h-3.5" stroke="#333" stroke-width="1" fill="none"/>
<path d="M86.50 403.5v3.5M130.40 403.5v3.5M174.30 403.5v3.5M61.5 376.40h-3.5M61.5 325.00h-3.5" stroke="#333" stroke-width="1" fill="none"/>
<path d="M222.50 403.5v3.5M267.30 403.5v3.5M311.95 403.5v3.5M189.55 376.40h-3.5M189.55 325.00h-3.5" stroke="#333" stroke-width="1" fill="none"/>
<path d="M345.60 403.5v3.5M397.00 403.5v3.5M318.5 300.40h-3.5M318.5 352.20h-3.5M318.5 403.50h-3.5" stroke="#333" stroke-width="1" fill="none"/>
<text x="86.00" y="419.48" font-size="16.87" text-anchor="middle" dominant-baseline="central" transform="rotate(-45 86.00 419.48)">69</text>
<text x="129.10" y="418.60" font-size="15.25" text-anchor="middle" dominant-baseline="central" transform="rotate(-45 129.10 418.60)">72</text>
<text x="173.57" y="419.38" font-size="16.22" text-anchor="middle" dominant-baseline="central" transform="rotate(-45 173.57 419.38)">75</text>
<text x="221.31" y="421.19" font-size="16.75" text-anchor="middle" dominant-baseline="central" transform="rotate(-45 221.31 421.19)">0.6</text>
<text x="266.58" y="421.27" font-size="18.01" text-anchor="middle" dominant-baseline="central" transform="rotate(-45 266.58 421.27)">0.8</text>
<text x="311.06" y="421.27" font-size="17.30" text-anchor="middle" dominant-baseline="central" transform="rotate(-45 311.06 421.27)">1.0</text>
<text x="344.66" y="424.02" font-size="16.64" text-anchor="middle" dominant-baseline="central" transform="rotate(-45 344.66 424.02)">0.32</text>
<text x="396.73" y="424.42" font-size="16.88" text-anchor="middle" dominant-baseline="central" transform="rotate(-45 396.73 424.42)">0.40</text>
<text x="41.60" y="158.41" font-size="17.45" text-anchor="middle" dominant-baseline="central" transform="rotate(-45 41.60 158.41)">1.0</text>
<text x="41.60" y="204.67" font-size="16.98" text-anchor="middle" dominant-baseline="central" transform="rotate(-45 41.60 204.67)">0.8</text>
<text x="42.00" y="248.65" font-size="16.26" text-anchor="middle" dominant-baseline="central" transform="rotate(-45 42.00 248.65)">0.6</text>
<text x="39.27" y="333.27" font-size="17.02" text-anchor="middle" dominant-baseline="central" transform="rotate(-45 39.27 333.27)">0.40</text>
<text x="38.87" y="384.00" font-size="16.83" text-anchor="middle" dominant-baseline="central" transform="rotate(-45 38.87 384.00)">0.32</text>
<text y="450" font-size="14.2"><tspan x="99.8" font-style="italic" font-size="15.2">M</tspan><tspan x="117.6">[M</tspan><tspan font-size="9.6" y="452.4" x="133.2">⊙</tspan><tspan y="450" x="141.6">]</tspan></text>
<text x="251.32" y="450.02" font-size="14.87" text-anchor="middle"><tspan font-style="italic">q</tspan></text>
<text y="446.2" font-size="15.5"><tspan x="369.6" font-style="italic" font-size="14.5">χ</tspan><tspan font-size="12.2" dy="3.6" dx="0.6">eff</tspan></text>
<text x="22.58" y="213.82" font-size="15.12" text-anchor="middle" transform="rotate(-90 22.58 213.82)"><tspan font-style="italic">q</tspan></text>
<text transform="translate(19.5 342.5) rotate(-90)" font-size="15.5"><tspan x="-9.4" dy="-2.6" font-style="italic" font-size="14">χ</tspan><tspan font-size="12" dy="5.2" dx="0.4">eff</tspan></text>
<rect x="304.8" y="8.6" width="152" height="51.4" fill="#fff" stroke="#ababab" stroke-width="1.1"/>
<rect x="311.5" y="15.4" width="17.0" height="11.6" fill="#1f77b4" stroke="#111" stroke-width="1"/>
<rect x="311.5" y="38.9" width="17.0" height="11.4" fill="#2ca02c" stroke="#111" stroke-width="1"/>
<text x="342.4" y="27" font-size="16.9">IMRPhenomD</text>
<text x="342.4" y="51.1" font-size="16.55">NRHybSur3dq8</text>
</svg></body></html>
